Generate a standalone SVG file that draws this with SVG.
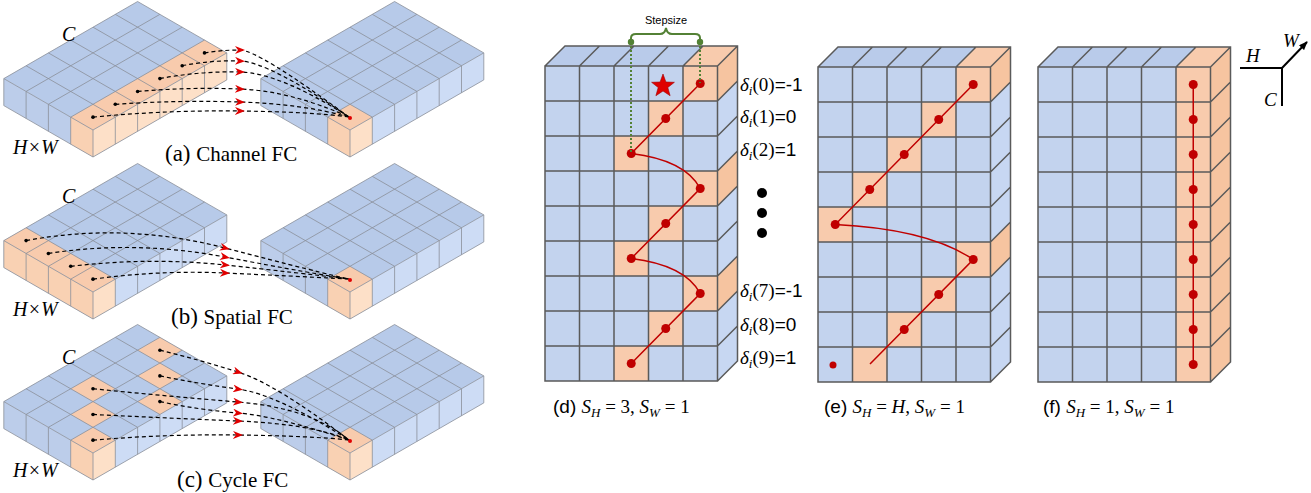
<svg xmlns="http://www.w3.org/2000/svg" xmlns:xlink="http://www.w3.org/1999/xlink" width="1311" height="493" viewBox="0 0 1311 493">
<style>
.tb{fill:#b7cae9}.lb{fill:#bccdea}.rb{fill:#cddcf5}
.to{fill:#f8cbad}.lo{fill:#f9d1b3}.ro{fill:#fde0c8}
.sl{fill:none;stroke:#8a8f99;stroke-width:0.8}
.fb{fill:#c3d3ee}.pt{fill:#b9cbea}.ps{fill:#c7d7f2}
.fo{fill:#f8cbad}.so{fill:#f6c4a0}
.pl{fill:none;stroke:#5a5a5a;stroke-width:1.5}
.dash{fill:none;stroke:#000;stroke-width:1.2;stroke-dasharray:4 3;marker-mid:url(#ra)}
.bd{fill:#000}
.rd{fill:#c00000}
.rl{fill:none;stroke:#c00000;stroke-width:1.5}
.ser{font-family:"Liberation Serif",serif}
.it{font-family:"Liberation Serif",serif;font-style:italic}
.sans{font-family:"Liberation Sans",sans-serif}
</style>
<defs>
<marker id="ra" viewBox="0 0 10 8" refX="5" refY="4" markerWidth="10" markerHeight="8" markerUnits="userSpaceOnUse" orient="auto">
<path d="M0,0 L10,4 L0,8 L3,4 z" fill="#e00000"/>
</marker>
<marker id="ka" viewBox="0 0 10 8" refX="9" refY="4" markerWidth="9" markerHeight="7" markerUnits="userSpaceOnUse" orient="auto">
<path d="M0,0 L10,4 L0,8 z" fill="#000"/>
</marker>
<g id="sfill">
<polygon class="tb" points="0,0 133.8,-77.1 44.6,-128.5 -89.2,-51.4"/>
<polygon class="lb" points="-89.2,-51.4 0,0 0,27 -89.2,-24.4"/>
<polygon class="rb" points="0,0 133.8,-77.1 133.8,-50.1 0,27"/>
</g>
<path id="slines" class="sl" d="M0,0 L133.8,-77.1 L44.6,-128.5 L-89.2,-51.4 Z M-89.2,-51.4 V-24.4 L0,27 L133.8,-50.1 V-77.1 M0,0 V27
M-22.3,-12.85 L111.5,-89.95 M-44.6,-25.7 L89.2,-102.8 M-66.9,-38.55 L66.9,-115.65
M22.3,-12.85 L-66.9,-64.25 M44.6,-25.7 L-44.6,-77.1 M66.9,-38.55 L-22.3,-89.95 M89.2,-51.4 L0,-102.8 M111.5,-64.25 L22.3,-115.65
M-22.3,-12.85 V14.15 M-44.6,-25.7 V1.3 M-66.9,-38.55 V-11.55
M22.3,-12.85 V14.15 M44.6,-25.7 V1.3 M66.9,-38.55 V-11.55 M89.2,-51.4 V-24.4 M111.5,-64.25 V-37.25"/>
<g id="rfront">
<polygon class="to" points="0,0 22.3,-12.85 0,-25.7 -22.3,-12.85"/>
<polygon class="lo" points="-22.3,-12.85 0,0 0,27 -22.3,14.15"/>
<polygon class="ro" points="0,0 22.3,-12.85 22.3,14.15 0,27"/>
</g>
<g id="pfill">
<rect class="fb" x="0" y="0" width="172.5" height="315"/>
<polygon class="pt" points="0,0 20,-20 192.5,-20 172.5,0"/>
<polygon class="ps" points="172.5,0 192.5,-20 192.5,295 172.5,315"/>
</g>
<path id="plines" class="pl" d="M0,0 H172.5 V315 H0 Z M34.5,0 V315 M69,0 V315 M103.5,0 V315 M138,0 V315
M0,35 H172.5 M0,70 H172.5 M0,105 H172.5 M0,140 H172.5 M0,175 H172.5 M0,210 H172.5 M0,245 H172.5 M0,280 H172.5
M0,0 L20,-20 H192.5 V295 L172.5,315 M34.5,0 L54.5,-20 M69,0 L89,-20 M103.5,0 L123.5,-20 M138,0 L158,-20 M172.5,0 L192.5,-20
M172.5,35 L192.5,15 M172.5,70 L192.5,50 M172.5,105 L192.5,85 M172.5,140 L192.5,120 M172.5,175 L192.5,155 M172.5,210 L192.5,190 M172.5,245 L192.5,225 M172.5,280 L192.5,260"/>
<polygon id="otop" class="fo" points="138,0 158,-20 192.5,-20 172.5,0"/>
</defs>

<!-- (a) -->
<g id="a-left" transform="translate(93,130)">
<use xlink:href="#sfill"/>
<polygon class="to" points="0,0 133.8,-77.1 111.5,-89.95 -22.3,-12.85"/>
<polygon class="ro" points="0,0 133.8,-77.1 133.8,-50.1 0,27"/>
<polygon class="lo" points="-22.3,-12.85 0,0 0,27 -22.3,14.15"/>
<use xlink:href="#slines"/>
</g>
<g id="a-right" transform="translate(350,130)">
<use xlink:href="#sfill"/><use xlink:href="#rfront"/><use xlink:href="#slines"/>
</g>
<!-- (b) -->
<g id="b-left" transform="translate(93,292)">
<use xlink:href="#sfill"/>
<polygon class="to" points="0,0 22.3,-12.85 -66.9,-64.25 -89.2,-51.4"/>
<polygon class="lo" points="-89.2,-51.4 0,0 0,27 -89.2,-24.4"/>
<polygon class="ro" points="0,0 22.3,-12.85 22.3,14.15 0,27"/>
<use xlink:href="#slines"/>
</g>
<g id="b-right" transform="translate(350,292)">
<use xlink:href="#sfill"/><use xlink:href="#rfront"/><use xlink:href="#slines"/>
</g>
<!-- (c) -->
<g id="c-left" transform="translate(93,453)">
<use xlink:href="#sfill"/>
<use xlink:href="#rfront"/>
<polygon class="to" points="0,-25.7 22.3,-38.55 0,-51.4 -22.3,-38.55"/>
<polygon class="to" points="0,-51.4 22.3,-64.25 0,-77.1 -22.3,-64.25"/>
<polygon class="to" points="66.9,-38.55 89.2,-51.4 66.9,-64.25 44.6,-51.4"/>
<polygon class="to" points="66.9,-64.25 89.2,-77.1 66.9,-89.95 44.6,-77.1"/>
<polygon class="to" points="66.9,-89.95 89.2,-102.8 66.9,-115.65 44.6,-102.8"/>
<use xlink:href="#slines"/>
</g>
<g id="c-right" transform="translate(350,453)">
<use xlink:href="#sfill"/><use xlink:href="#rfront"/><use xlink:href="#slines"/>
</g>

<g id="connectors">
<path class="dash" d="M204.5,52.9 Q222,50 240,50 T349,117"/>
<path class="dash" d="M182.2,65.75 Q211,60 240,61 T349,117"/>
<path class="dash" d="M159.9,78.6 Q200,71 240,72 T349,117"/>
<path class="dash" d="M137.6,91.45 Q189,87 240,89 T349,117"/>
<path class="dash" d="M115.3,104.3 Q178,100 240,102 T349,117"/>
<path class="dash" d="M93,117.15 Q166,110 240,111 T349,117"/>

<path class="dash" d="M26.1,240.6 Q125,222 225,248 T349,279"/>
<path class="dash" d="M48.4,253.45 Q135,240 225,257 T349,279"/>
<path class="dash" d="M70.7,266.3 Q150,257 225,265 T349,279"/>
<path class="dash" d="M93,279.15 Q160,270 225,273 T349,279"/>

<path class="dash" d="M159.9,350.2 Q200,360 238,372 T349,440"/>
<path class="dash" d="M159.9,375.9 Q200,384 238,389 T349,440"/>
<path class="dash" d="M93,388.75 Q165,396 238,402 T349,440"/>
<path class="dash" d="M159.9,401.6 Q200,410 238,413 T349,440"/>
<path class="dash" d="M93,414.45 Q165,418 238,421 T349,440"/>
<path class="dash" d="M93,440.15 Q165,434 238,435 T349,440"/>
</g>
<g id="dots">
<circle class="bd" cx="93" cy="117.15" r="1.8"/><circle class="bd" cx="115.3" cy="104.3" r="1.8"/><circle class="bd" cx="137.6" cy="91.45" r="1.8"/><circle class="bd" cx="159.9" cy="78.6" r="1.8"/><circle class="bd" cx="182.2" cy="65.75" r="1.8"/><circle class="bd" cx="204.5" cy="52.9" r="1.8"/>
<circle fill="#e00000" cx="350" cy="118" r="2"/>
<circle class="bd" cx="93" cy="279.15" r="1.8"/><circle class="bd" cx="70.7" cy="266.3" r="1.8"/><circle class="bd" cx="48.4" cy="253.45" r="1.8"/><circle class="bd" cx="26.1" cy="240.6" r="1.8"/>
<circle fill="#e00000" cx="350" cy="280" r="2"/>
<circle class="bd" cx="93" cy="440.15" r="1.8"/><circle class="bd" cx="93" cy="414.45" r="1.8"/><circle class="bd" cx="93" cy="388.75" r="1.8"/><circle class="bd" cx="159.9" cy="401.6" r="1.8"/><circle class="bd" cx="159.9" cy="375.9" r="1.8"/><circle class="bd" cx="159.9" cy="350.2" r="1.8"/>
<circle fill="#e00000" cx="350" cy="441" r="2"/>
</g>

<g id="labels-left">
<text class="it" x="62" y="41" font-size="20">C</text>
<text class="it" x="13" y="154" font-size="20">H×W</text>
<text class="ser" x="165" y="161" font-size="23">(a) <tspan font-size="21">Channel FC</tspan></text>
<text class="it" x="62" y="203" font-size="20">C</text>
<text class="it" x="13" y="316" font-size="20">H×W</text>
<text class="ser" x="171" y="324" font-size="23">(b) <tspan font-size="21">Spatial FC</tspan></text>
<text class="it" x="62" y="364" font-size="20">C</text>
<text class="it" x="13" y="477" font-size="20">H×W</text>
<text class="ser" x="177" y="487" font-size="23">(c) <tspan font-size="21">Cycle FC</tspan></text>
</g>

<!-- (d) -->
<g id="panel-d" transform="translate(545,66)">
<use xlink:href="#pfill"/>
<rect class="fo" x="138" y="0" width="34.5" height="35"/>
<rect class="fo" x="103.5" y="35" width="34.5" height="35"/>
<rect class="fo" x="69" y="70" width="34.5" height="35"/>
<rect class="fo" x="138" y="105" width="34.5" height="35"/>
<rect class="fo" x="103.5" y="140" width="34.5" height="35"/>
<rect class="fo" x="69" y="175" width="34.5" height="35"/>
<rect class="fo" x="138" y="210" width="34.5" height="35"/>
<rect class="fo" x="103.5" y="245" width="34.5" height="35"/>
<rect class="fo" x="69" y="280" width="34.5" height="35"/>
<use xlink:href="#otop"/>
<polygon class="so" points="172.5,0 192.5,-20 192.5,15 172.5,35"/>
<polygon class="so" points="172.5,105 192.5,85 192.5,120 172.5,140"/>
<polygon class="so" points="172.5,210 192.5,190 192.5,225 172.5,245"/>
<use xlink:href="#plines"/>
<path class="rl" d="M155.25,17.5 L86.25,87.5 Q140,94 155.25,122.5 L86.25,192.5 Q140,199 155.25,227.5 L86.25,297.5"/>
<circle class="rd" cx="155.25" cy="17.5" r="4.5"/><circle class="rd" cx="120.75" cy="52.5" r="4.5"/><circle class="rd" cx="86.25" cy="87.5" r="4.5"/>
<circle class="rd" cx="155.25" cy="122.5" r="4.5"/><circle class="rd" cx="120.75" cy="157.5" r="4.5"/><circle class="rd" cx="86.25" cy="192.5" r="4.5"/>
<circle class="rd" cx="155.25" cy="227.5" r="4.5"/><circle class="rd" cx="120.75" cy="262.5" r="4.5"/><circle class="rd" cx="86.25" cy="297.5" r="4.5"/>
</g>
<polygon fill="#e00000" stroke="#a00000" stroke-width="0.6" points="663,74 665.9,82 674.4,82.3 667.8,87.5 670.1,95.7 663,91 655.9,95.7 658.2,87.5 651.6,82.3 660.1,82"/>
<g id="stepsize">
<path d="M631,42 V38 Q631,34 636,34 H660 Q665,34 666,28 Q667,34 672,34 H695 Q700,34 700,38 V42" fill="none" stroke="#538135" stroke-width="2"/>
<path d="M631,42 V153 M700,42 V83" fill="none" stroke="#538135" stroke-width="2" stroke-dasharray="2 2"/>
<circle cx="631" cy="42" r="3.2" fill="#538135"/><circle cx="700" cy="42" r="3.2" fill="#538135"/>
<text class="sans" x="666" y="24" font-size="11" text-anchor="middle">Stepsize</text>
</g>
<g id="deltas" font-size="19">
<text x="740" y="91"><tspan class="it">δ</tspan><tspan class="it" font-size="13" dy="4">i</tspan><tspan class="ser" dy="-4">(0)</tspan><tspan class="sans">=-1</tspan></text>
<text x="740" y="123"><tspan class="it">δ</tspan><tspan class="it" font-size="13" dy="4">i</tspan><tspan class="ser" dy="-4">(1)</tspan><tspan class="sans">=0</tspan></text>
<text x="740" y="156"><tspan class="it">δ</tspan><tspan class="it" font-size="13" dy="4">i</tspan><tspan class="ser" dy="-4">(2)</tspan><tspan class="sans">=1</tspan></text>
<text x="740" y="297"><tspan class="it">δ</tspan><tspan class="it" font-size="13" dy="4">i</tspan><tspan class="ser" dy="-4">(7)</tspan><tspan class="sans">=-1</tspan></text>
<text x="740" y="331"><tspan class="it">δ</tspan><tspan class="it" font-size="13" dy="4">i</tspan><tspan class="ser" dy="-4">(8)</tspan><tspan class="sans">=0</tspan></text>
<text x="740" y="364"><tspan class="it">δ</tspan><tspan class="it" font-size="13" dy="4">i</tspan><tspan class="ser" dy="-4">(9)</tspan><tspan class="sans">=1</tspan></text>
<circle cx="762" cy="193" r="5" fill="#000"/><circle cx="762" cy="213" r="5" fill="#000"/><circle cx="762" cy="233" r="5" fill="#000"/>
</g>

<!-- (e) -->
<g id="panel-e" transform="translate(818,67)">
<use xlink:href="#pfill"/>
<rect class="fo" x="138" y="0" width="34.5" height="35"/>
<rect class="fo" x="103.5" y="35" width="34.5" height="35"/>
<rect class="fo" x="69" y="70" width="34.5" height="35"/>
<rect class="fo" x="34.5" y="105" width="34.5" height="35"/>
<rect class="fo" x="0" y="140" width="34.5" height="35"/>
<rect class="fo" x="138" y="175" width="34.5" height="35"/>
<rect class="fo" x="103.5" y="210" width="34.5" height="35"/>
<rect class="fo" x="69" y="245" width="34.5" height="35"/>
<rect class="fo" x="34.5" y="280" width="34.5" height="35"/>
<use xlink:href="#otop"/>
<polygon class="so" points="172.5,0 192.5,-20 192.5,15 172.5,35"/>
<polygon class="so" points="172.5,175 192.5,155 192.5,190 172.5,210"/>
<use xlink:href="#plines"/>
<path class="rl" d="M155.25,17.5 L17.25,157.5 Q110,162 155.25,192.5 L52,297"/>
<circle class="rd" cx="155.25" cy="17.5" r="4.5"/><circle class="rd" cx="120.75" cy="52.5" r="4.5"/><circle class="rd" cx="86.25" cy="87.5" r="4.5"/><circle class="rd" cx="51.75" cy="122.5" r="4.5"/><circle class="rd" cx="17.25" cy="157.5" r="4.5"/>
<circle class="rd" cx="155.25" cy="192.5" r="4.5"/><circle class="rd" cx="120.75" cy="227.5" r="4.5"/><circle class="rd" cx="86.25" cy="262.5" r="4.5"/>
<circle class="rd" cx="15" cy="298" r="3.5"/>
</g>

<!-- (f) -->
<g id="panel-f" transform="translate(1038,67)">
<use xlink:href="#pfill"/>
<rect class="fo" x="138" y="0" width="34.5" height="315"/>
<use xlink:href="#otop"/>
<polygon class="so" points="172.5,0 192.5,-20 192.5,295 172.5,315"/>
<use xlink:href="#plines"/>
<path class="rl" d="M155.25,17.5 V297.5"/>
<circle class="rd" cx="155.25" cy="17.5" r="4.5"/><circle class="rd" cx="155.25" cy="52.5" r="4.5"/><circle class="rd" cx="155.25" cy="87.5" r="4.5"/><circle class="rd" cx="155.25" cy="122.5" r="4.5"/><circle class="rd" cx="155.25" cy="157.5" r="4.5"/><circle class="rd" cx="155.25" cy="192.5" r="4.5"/><circle class="rd" cx="155.25" cy="227.5" r="4.5"/><circle class="rd" cx="155.25" cy="262.5" r="4.5"/><circle class="rd" cx="155.25" cy="297.5" r="4.5"/>
</g>

<g id="captions" font-size="19">
<text x="553" y="413"><tspan class="sans">(d) </tspan><tspan class="it">S</tspan><tspan class="it" font-size="13" dy="4">H</tspan><tspan class="ser" dy="-4"> = 3, </tspan><tspan class="it">S</tspan><tspan class="it" font-size="13" dy="4">W</tspan><tspan class="ser" dy="-4"> = 1</tspan></text>
<text x="824" y="413"><tspan class="sans">(e) </tspan><tspan class="it">S</tspan><tspan class="it" font-size="13" dy="4">H</tspan><tspan class="ser" dy="-4"> = </tspan><tspan class="it">H</tspan><tspan class="ser">, </tspan><tspan class="it">S</tspan><tspan class="it" font-size="13" dy="4">W</tspan><tspan class="ser" dy="-4"> = 1</tspan></text>
<text x="1043" y="413"><tspan class="sans">(f) </tspan><tspan class="it">S</tspan><tspan class="it" font-size="13" dy="4">H</tspan><tspan class="ser" dy="-4"> = 1, </tspan><tspan class="it">S</tspan><tspan class="it" font-size="13" dy="4">W</tspan><tspan class="ser" dy="-4"> = 1</tspan></text>
</g>

<g id="axes">
<path d="M1282,68 H1240 M1282,68 V106 M1282,68 L1307,42" fill="none" stroke="#000" stroke-width="2" marker-end="url(#ka)"/>
<text class="it" x="1246" y="62" font-size="19">H</text>
<text class="it" x="1283" y="47" font-size="19">W</text>
<text class="it" x="1264" y="106" font-size="19">C</text>
</g>
</svg>
